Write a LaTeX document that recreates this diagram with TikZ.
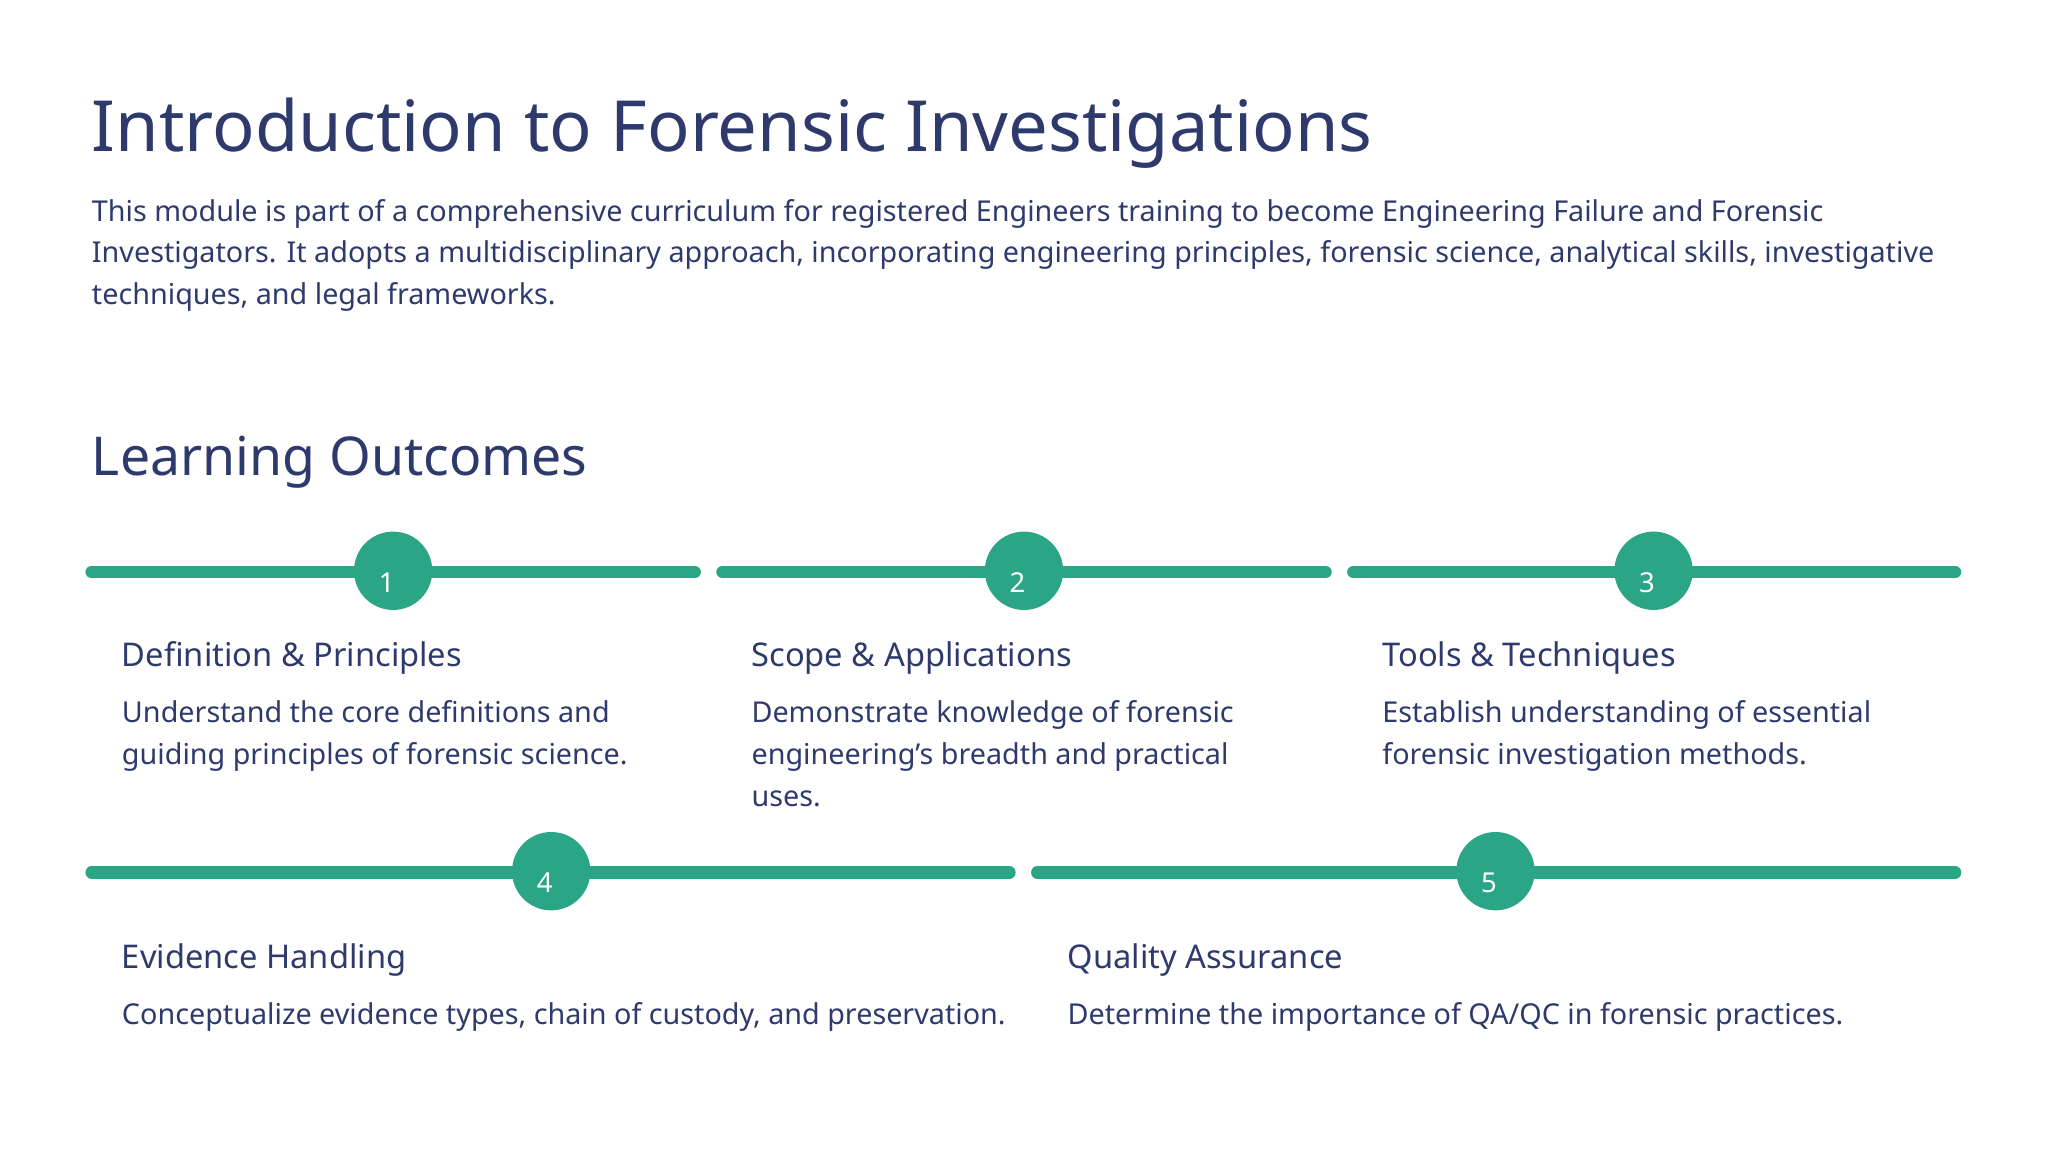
\documentclass[tikz,border=0pt]{standalone}
\usepackage{fontspec}
\setmainfont{Noto Sans}
\definecolor{navy}{HTML}{2E3A6C}
\definecolor{teal}{HTML}{2AA686}
\begin{document}
\begin{tikzpicture}[x=0.5pt,y=-0.5pt,
  bar/.style={teal,line width=4.6pt,line cap=round},
  badge/.style={circle,fill=teal,minimum size=30pt,inner sep=0pt},
  num/.style={text=white,font=\fontsize{10.5}{12}\selectfont\bfseries,anchor=center},
  ctitle/.style={anchor=west,text=navy,font=\fontsize{12.5}{15}\selectfont\bfseries,inner sep=0pt},
  cbody/.style={anchor=north west,text=navy,align=left,font=\fontsize{11}{16}\selectfont,inner sep=0pt}]
\useasboundingbox (0,0) rectangle (1568,882);
\node[anchor=west,inner sep=0pt,text=navy,font=\fontsize{27}{32}\selectfont\bfseries] (title) at (70,102) {Introduction to Forensic Investigations};
\node[anchor=north west,inner sep=0pt,text=navy,align=left,font=\fontsize{11}{16}\selectfont] (intro) at (70,152) {This module is part of a comprehensive curriculum for registered Engineers training to become Engineering Failure and Forensic\\Investigators. It adopts a multidisciplinary approach, incorporating engineering principles, forensic science, analytical skills, investigative\\techniques, and legal frameworks.};
\node[anchor=west,inner sep=0pt,text=navy,font=\fontsize{20.5}{24}\selectfont\bfseries] (lo) at (70,354) {Learning Outcomes};
% row 1
\coordinate (a1) at (70,438); \coordinate (b1) at (532,438);
\coordinate (a2) at (553,438); \coordinate (b2) at (1015,438);
\coordinate (a3) at (1036,438); \coordinate (b3) at (1497,438);
\coordinate (a4) at (70,668); \coordinate (b4) at (773,668);
\coordinate (a5) at (794,668); \coordinate (b5) at (1497,668);
\foreach \i in {1,...,5}{\draw[bar] (a\i) -- (b\i);}
\node[badge] (c1) at (301,437) {}; \node[num] at (296,446) {1};
\node[badge] (c2) at (784,437) {}; \node[num] at (779,446) {2};
\node[badge] (c3) at (1266,437) {}; \node[num] at (1261,446) {3};
\node[badge] (c4) at (422,667) {}; \node[num] at (417,676) {4};
\node[badge] (c5) at (1145,667) {}; \node[num] at (1140,676) {5};
\node[ctitle] (t1) at (93,504) {Definition \& Principles};
\node[cbody] (d1) at (93,536) {Understand the core definitions and\\guiding principles of forensic science.};
\node[ctitle] (t2) at (575,504) {Scope \& Applications};
\node[cbody] (d2) at (575,536) {Demonstrate knowledge of forensic\\engineering's breadth and practical\\uses.};
\node[ctitle] (t3) at (1058,504) {Tools \& Techniques};
\node[cbody] (d3) at (1058,536) {Establish understanding of essential\\forensic investigation methods.};
\node[ctitle] (t4) at (93,735) {Evidence Handling};
\node[cbody] (d4) at (93,767) {Conceptualize evidence types, chain of custody, and preservation.};
\node[ctitle] (t5) at (817,735) {Quality Assurance};
\node[cbody] (d5) at (817,767) {Determine the importance of QA/QC in forensic practices.};
\end{tikzpicture}
\end{document}
